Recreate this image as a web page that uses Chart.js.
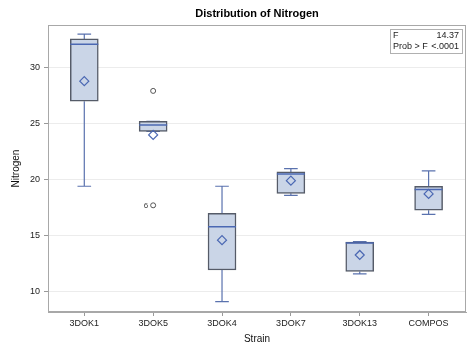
<!DOCTYPE html>
<html><head><meta charset="utf-8">
<script src="https://cdn.jsdelivr.net/npm/chart.js@4/dist/chart.umd.min.js"></script>
<style>html,body{margin:0;padding:0;background:#fff}canvas{display:block}</style>
</head><body>
<canvas id="c" width="474" height="355"></canvas>
<script>
const categories = ['3DOK1','3DOK5','3DOK4','3DOK7','3DOK13','COMPOS'];
const whiskerLow  = [19.41, 24.31, 9.11, 18.60, 11.60, 16.91];
const q1          = [27.00, 24.31, 11.94, 18.78, 11.81, 17.27];
const median      = [32.09, 24.88, 15.80, 20.51, 14.34, 19.11];
const q3          = [32.56, 25.20, 17.00, 20.69, 14.42, 19.41];
const whiskerHigh = [32.98, 25.20, 19.41, 20.98, 14.48, 20.78];
const mean        = [28.79, 23.99, 14.60, 19.91, 13.28, 18.73];
const outlierCat  = [1, 1];
const outlierVal  = [27.92, 17.71];
const outlierLbl  = ['', '6'];
const yTicks = [10, 15, 20, 25, 30];
const statLabels = ['F', 'Prob > F'];
const statValues = ['14.37', '<.0001'];

const BOX_HALF = 0.2033, CAP_HALF = 0.099;
const FONT = "'Liberation Sans', Arial, sans-serif";

const whiskerData = [];
categories.forEach((c,i)=>{
  whiskerData.push({x:i,y:whiskerLow[i]},{x:i,y:q1[i]},{x:i,y:null});
  whiskerData.push({x:i,y:q3[i]},{x:i,y:whiskerHigh[i]},{x:i,y:null});
  whiskerData.push({x:i-CAP_HALF,y:whiskerLow[i]},{x:i+CAP_HALF,y:whiskerLow[i]},{x:i,y:null});
  whiskerData.push({x:i-CAP_HALF,y:whiskerHigh[i]},{x:i+CAP_HALF,y:whiskerHigh[i]},{x:i,y:null});
});
const medianData = [];
categories.forEach((c,i)=>{
  medianData.push({x:i-BOX_HALF,y:median[i]},{x:i+BOX_HALF,y:median[i]},{x:i,y:null});
});

const framePlugin = {
  id:'frame',
  afterDraw(chart){
    const {ctx, chartArea:a, scales} = chart;
    ctx.save();
    ctx.strokeStyle = '#a8a8a8'; ctx.lineWidth = 1;
    ctx.strokeRect(a.left+0.5, a.top+0.5, a.right-a.left-1, a.bottom-a.top-1);
    // title
    ctx.fillStyle = '#000';
    ctx.font = "bold 11px " + FONT;
    ctx.textAlign = 'center'; ctx.textBaseline = 'middle';
    ctx.fillText('Distribution of Nitrogen', (a.left+a.right)/2, 14);
    // inset stats box
    const bx = a.right - 76, by = a.top + 4, bw = 72, bh = 24;
    ctx.fillStyle = '#fff'; ctx.fillRect(bx, by, bw, bh);
    ctx.strokeStyle = '#b0b0b0';
    ctx.strokeRect(bx+0.5, by+0.5, bw, bh);
    ctx.fillStyle = '#222';
    ctx.font = "9px " + FONT;
    statLabels.forEach((l,k)=>{
      const ty = by + 6.5 + k*11.5;
      ctx.textAlign = 'left'; ctx.fillText(l, bx+3, ty);
      ctx.textAlign = 'right'; ctx.fillText(statValues[k], bx+bw-3, ty);
    });
    // outlier labels
    ctx.fillStyle = '#444'; ctx.font = "8px " + FONT;
    ctx.textAlign = 'right';
    outlierLbl.forEach((t,k)=>{
      if(!t) return;
      const px = scales.x.getPixelForValue(outlierCat[k]);
      const py = scales.y.getPixelForValue(outlierVal[k]);
      ctx.fillText(t, px-5, py);
    });
    ctx.restore();
  }
};

new Chart(document.getElementById('c'), {
  type:'bar',
  data:{
    datasets:[
      { type:'scatter', label:'Mean', data:categories.map((c,i)=>({x:i,y:mean[i]})),
        pointStyle:'rectRot', pointRadius:4.5, pointBorderColor:'#4b68b3', pointBackgroundColor:'rgba(0,0,0,0)', pointBorderWidth:1.2 },
      { type:'scatter', label:'Outliers', data:outlierVal.map((v,k)=>({x:outlierCat[k],y:v})),
        pointStyle:'circle', pointRadius:2.5, pointBorderColor:'#555', pointBackgroundColor:'rgba(0,0,0,0)', pointBorderWidth:1 },
      { type:'line', label:'Median', data:medianData, borderColor:'#4b68b3', borderWidth:1.5, pointRadius:0, spanGaps:false, fill:false },
      { type:'bar', label:'Box', data:categories.map((c,i)=>({x:i,y:[q1[i],q3[i]]})),
        backgroundColor:'#cad5e7', borderColor:'#555b68', borderWidth:1.5, borderSkipped:false, barThickness:28 },
      { type:'line', label:'Whiskers', data:whiskerData, borderColor:'#5a72ae', borderWidth:1.2, pointRadius:0, spanGaps:false, fill:false },
    ]
  },
  options:{
    responsive:false, animation:false,
    layout:{padding:{top:25,right:8,left:0,bottom:0}},
    plugins:{legend:{display:false}, tooltip:{enabled:false}, title:{display:false}},
    scales:{
      x:{ type:'linear', min:-0.527, max:5.543, offset:false,
        afterBuildTicks(s){ s.ticks = categories.map((c,i)=>({value:i})); },
        afterFit(s){ s.height = 43; },
        ticks:{ callback:(v)=>categories[v], font:{family:FONT,size:9}, color:'#222', padding:2, autoSkip:false, maxRotation:0 },
        grid:{ drawOnChartArea:false, drawTicks:true, tickLength:4, tickColor:'#999', offset:false },
        border:{ color:'#a8a8a8' },
        title:{ display:true, text:'Strain', font:{family:FONT,size:10}, color:'#111', padding:{top:4,bottom:10} }
      },
      y:{ type:'linear', min:8.19, max:33.8,
        afterBuildTicks(s){ s.ticks = yTicks.map(v=>({value:v})); },
        afterFit(s){ s.width = 48; },
        ticks:{ font:{family:FONT,size:9}, color:'#222', padding:4 },
        grid:{ color:'#ececec', tickColor:'#999', tickLength:4 },
        border:{ color:'#a8a8a8' },
        title:{ display:true, text:'Nitrogen', font:{family:FONT,size:10}, color:'#111', padding:{top:10,bottom:4} }
      }
    }
  },
  plugins:[framePlugin]
});
</script>
</body></html>
